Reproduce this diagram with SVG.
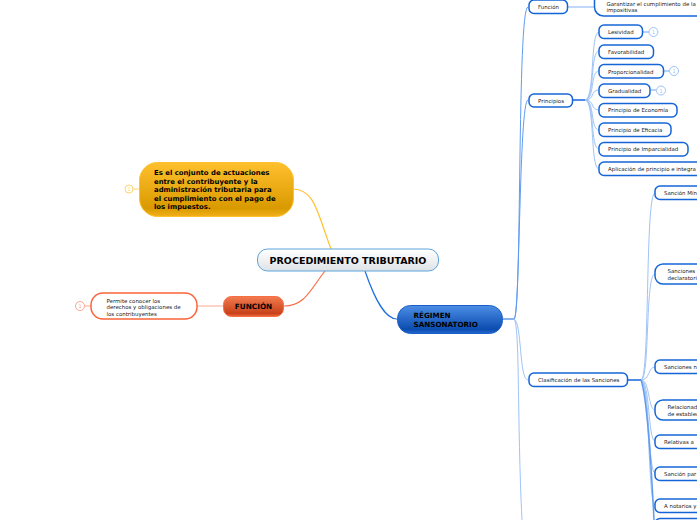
<svg xmlns="http://www.w3.org/2000/svg" width="697" height="520" viewBox="0 0 697 520">
<style>
text{font-family:"DejaVu Sans",Verdana,sans-serif;font-size:5.45px;fill:#222}
.b{font-weight:bold;fill:#000;font-size:6.9px}
.n{fill:#fff;stroke:#1565d8;stroke-width:1.5}
.l{fill:none;stroke:#9fc3f7;stroke-width:1}
.d{fill:none;stroke:#5f9cf0;stroke-width:1}
.s{fill:none;stroke:#1565d8;stroke-width:1.5}
.c{fill:#fff;stroke:#9fc3f7;stroke-width:1}
.i{font-size:5px;fill:#9fc3f7;text-anchor:middle}
</style>
<defs>
<linearGradient id="gc" x1="0" y1="0" x2="0" y2="1"><stop offset="0" stop-color="#fff"/><stop offset="1" stop-color="#dfe3e6"/></linearGradient>
<linearGradient id="gy" x1="0" y1="0" x2="0" y2="1"><stop offset="0" stop-color="#ffc02e"/><stop offset=".85" stop-color="#d99a00"/><stop offset="1" stop-color="#f2b01a"/></linearGradient>
<linearGradient id="go" x1="0" y1="0" x2="0" y2="1"><stop offset="0" stop-color="#f47b50"/><stop offset=".85" stop-color="#c8421a"/><stop offset="1" stop-color="#ee6a3c"/></linearGradient>
<linearGradient id="gb" x1="0" y1="0" x2="0" y2="1"><stop offset="0" stop-color="#4d8ee6"/><stop offset=".85" stop-color="#0b4cb0"/><stop offset="1" stop-color="#2369cf"/></linearGradient>
</defs>
<g id="connectors">
<path d="M293 189C315 189 318 215 331 249" fill="none" stroke="#ffc12e" stroke-width="1.2"/>
<path d="M284 306C305 306 310 290 325 271" fill="none" stroke="#f76e45" stroke-width="1.2"/>
<path d="M197 306H223" fill="none" stroke="#fca98f" stroke-width="1"/>
<path d="M85 306H91" fill="none" stroke="#fca98f" stroke-width="1"/>
<path d="M129 189H139" fill="none" stroke="#ffd56e" stroke-width="1"/>
<path d="M365 271C375 300 385 319 397 319" fill="none" stroke="#1f6fe0" stroke-width="1.2"/>
<path d="M503 319H514" class="s" style="stroke-width:1"/>
<path d="M514 319C522 319 517 7 528 7" class="d"/>
<path d="M514 319C520 319 519 100 528 100" class="d"/>
<path d="M514 319C522 322 519 380 528 380" class="l"/>
<path d="M514 319C520 325 517 420 522 520" class="l"/>
<path d="M568 7H594" class="l" style="stroke-width:1.3"/>
<path d="M573 100H585" class="s"/>
<path d="M585 100C595 100 590 32 599 32" class="l"/>
<path d="M585 100C595 100 590 51 599 51" class="l"/>
<path d="M585 100C595 100 590 71 599 71" class="l"/>
<path d="M585 100C595 100 590 90 599 90" class="l"/>
<path d="M585 100C595 100 590 110 599 110" class="l"/>
<path d="M585 100C595 100 590 130 599 130" class="l"/>
<path d="M585 100C595 100 590 149 599 149" class="l"/>
<path d="M585 100C595 100 590 169 599 169" class="l"/>
<path d="M643 32H649M664 71H669M651 90H656" class="l" style="stroke-width:1.3"/>
<path d="M628 380H641" class="s"/>
<path d="M641 380C650 380 645 193 655 193" class="l"/>
<path d="M641 380C650 380 645 274 655 274" class="l"/>
<path d="M641 380C650 380 648 367 655 367" class="l"/>
<path d="M641 380C650 380 648 410 655 410" class="l"/>
<path d="M641 380C650 380 648 441 655 441" class="l"/>
<path d="M641 380C650 385 648 473 655 473" class="l"/>
<path d="M641 380C650 385 648 505 655 505" class="l"/>
<path d="M641 380C648 400 652 480 654 520" class="d" style="stroke-width:1.5"/>
</g>
<g id="root"><rect x="257.5" y="249" width="181" height="22" rx="10" fill="url(#gc)" stroke="#5aa3dc"/><text class="b" x="348" y="264" text-anchor="middle" style="font-size:9.5px">PROCEDIMIENTO TRIBUTARIO</text></g>
<g id="def"><rect x="139.500" y="162.500" width="154" height="54" rx="18" fill="url(#gy)" stroke="#ffc12e"/>
<text class="b" x="154" y="175">Es el conjunto de actuaciones</text><text class="b" x="154" y="184">entre el contribuyente y la</text><text class="b" x="154" y="192">administración tributaria para</text><text class="b" x="154" y="201">el cumplimiento con el pago de</text><text class="b" x="154" y="209">los impuestos.</text>
<circle cx="129" cy="189" r="4" fill="#fff" stroke="#ffd56e"/><text class="i" x="129" y="191" style="fill:#ffd56e">1</text></g>
<g id="funcion-o"><rect x="223.500" y="296.500" width="60" height="20" rx="8" fill="url(#go)" stroke="#f76e45"/><text class="b" x="253.500" y="309" text-anchor="middle" style="font-size:7.3px">FUNCIÓN</text></g>
<g id="permite"><rect x="91" y="293" width="106" height="26" rx="12" fill="#fff" stroke="#f9643a" stroke-width="1.500"/>
<text x="106.500" y="302.500">Permite conocer los</text><text x="106.500" y="309">derechos y obligaciones de</text><text x="106.500" y="315.500">los contribuyentes</text>
<circle cx="80" cy="306" r="4.500" fill="#fff" stroke="#fca98f"/><text class="i" x="80" y="308" style="fill:#fca98f">1</text></g>
<g id="regimen"><rect x="397.500" y="305.500" width="105" height="28" rx="13" fill="url(#gb)" stroke="#1a5fc8"/><text class="b" x="413.500" y="318" style="font-size:7.2px">RÉGIMEN</text><text class="b" x="413.500" y="327" style="font-size:7.2px">SANSONATORIO</text></g>
<g id="n-funcion"><rect x="529" y="0" width="38.500" height="13.500" rx="5" class="n"/><text x="538" y="9">Función</text></g>
<g id="n-garantizar"><rect x="594.500" y="-8" width="120" height="24" rx="9" class="n"/><text x="606.500" y="6">Garantizar el cumplimiento de la</text><text x="606.500" y="12">impositivas</text></g>
<g id="n-principios"><rect x="529" y="94" width="43.500" height="13" rx="5" class="n"/><text x="538" y="103">Principios</text></g>
<g id="n-les"><rect x="599" y="25" width="43.500" height="13.500" rx="5" class="n"/><text x="608" y="34">Lesividad</text><circle cx="653.500" cy="32" r="4.500" class="c"/><text class="i" x="653.500" y="34">1</text></g>
<g id="n-fav"><rect x="599" y="45" width="54.500" height="13.500" rx="5" class="n"/><text x="608" y="54">Favorabilidad</text></g>
<g id="n-pro"><rect x="599" y="64.500" width="64.500" height="13.500" rx="5" class="n"/><text x="608" y="73.500">Proporcionalidad</text><circle cx="674" cy="71" r="4.500" class="c"/><text class="i" x="674" y="73">1</text></g>
<g id="n-gra"><rect x="599" y="84" width="51" height="13.500" rx="5" class="n"/><text x="608" y="93">Gradualidad</text><circle cx="661" cy="90.500" r="4.500" class="c"/><text class="i" x="661" y="92.500">1</text></g>
<g id="n-eco"><rect x="599" y="103.500" width="78" height="13.500" rx="5" class="n"/><text x="608" y="112">Principio de Economía</text></g>
<g id="n-efi"><rect x="599" y="123" width="72" height="13.500" rx="5" class="n"/><text x="608" y="132">Principio de Eficacia</text></g>
<g id="n-imp"><rect x="599" y="142.500" width="89" height="13.500" rx="5" class="n"/><text x="608" y="151">Principio de Imparcialidad</text></g>
<g id="n-apl"><rect x="599" y="162" width="120" height="13.500" rx="5" class="n"/><text x="608" y="171">Aplicación de principio e integra</text></g>
<g id="n-cla"><rect x="529" y="373" width="98.500" height="13.500" rx="5" class="n"/><text x="538" y="382">Clasificación de las Sanciones</text></g>
<g id="n-min"><rect x="655" y="186" width="80" height="13.500" rx="5" class="n"/><text x="664" y="195">Sanción Mín</text></g>
<g id="n-dec"><rect x="655" y="264" width="80" height="20" rx="8" class="n"/><text x="667.500" y="273">Sanciones</text><text x="667.500" y="279.500">declaratori</text></g>
<g id="n-sr"><rect x="655" y="360" width="80" height="13.500" rx="5" class="n"/><text x="664" y="369">Sanciones n</text></g>
<g id="n-rel"><rect x="655" y="400" width="80" height="20" rx="8" class="n"/><text x="667.500" y="409">Relacionad</text><text x="667.500" y="416">de establec</text></g>
<g id="n-ra"><rect x="655" y="435" width="80" height="13.500" rx="5" class="n"/><text x="664" y="444">Relativas a</text></g>
<g id="n-par"><rect x="655" y="467" width="80" height="13.500" rx="5" class="n"/><text x="664" y="476">Sanción par</text></g>
<g id="n-not"><rect x="655" y="499" width="80" height="13.500" rx="5" class="n"/><text x="664" y="508">A notarios y</text></g>
<g id="n-last"><rect x="655" y="518.500" width="80" height="13.500" rx="5" class="n"/></g>
</svg>
